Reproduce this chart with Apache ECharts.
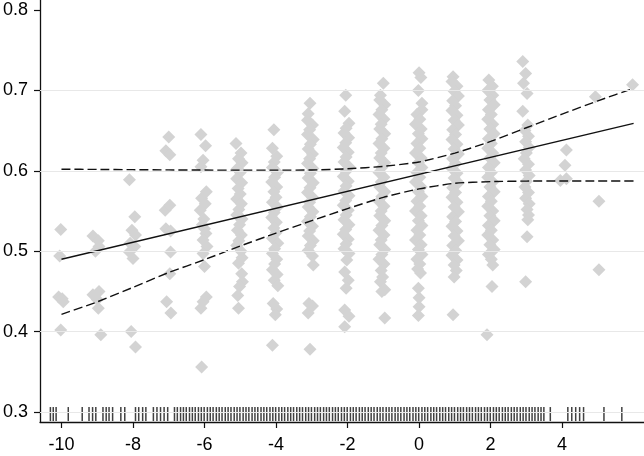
<!DOCTYPE html>
<html><head><meta charset="utf-8">
<script src="https://cdn.jsdelivr.net/npm/echarts@6/dist/echarts.min.js"></script>
<style>html,body{margin:0;padding:0;background:#fff}#c{width:644px;height:456px}</style>
</head><body><div id="c"></div>
<script>
// ---- data ----
const xTicks = [-10, -8, -6, -4, -2, 0, 2, 4];
const yTicks = [0.3, 0.4, 0.5, 0.6, 0.7, 0.8];
const gridYs = [0.3, 0.4, 0.5, 0.6, 0.7];

const colM10 = [[-10.02,0.527],[-10.05,0.494],[-10.08,0.443],[-9.98,0.441],[-9.95,0.437],[-10.02,0.402]];
const colM9 = [[-9.12,0.519],[-8.97,0.513],[-8.95,0.506],[-9.05,0.500],[-9.12,0.446],[-8.95,0.450],[-9.0,0.440],[-8.97,0.429],[-8.9,0.396]];
const colM8 = [[-8.1,0.589],[-7.95,0.543],[-8.03,0.526],[-7.93,0.520],[-8.08,0.510],[-7.95,0.506],[-8.1,0.499],[-8.0,0.491],[-8.05,0.400],[-7.93,0.381]];
const colM7 = [[-7.0,0.642],[-7.08,0.625],[-6.97,0.620],[-7.1,0.551],[-6.97,0.557],[-7.08,0.528],[-6.95,0.525],[-6.95,0.499],[-6.97,0.472],[-7.06,0.437],[-6.94,0.423]];
const colM6 = [[-6.1,0.645],[-5.97,0.631],[-6.04,0.613],[-6.1,0.605],[-5.95,0.574],[-6.08,0.566],[-5.98,0.559],[-6.12,0.551],[-6.02,0.540],[-6.06,0.533],[-6.0,0.528],[-5.96,0.522],[-6.04,0.514],[-5.93,0.506],[-6.04,0.497],[-6.0,0.481],[-5.95,0.443],[-6.04,0.437],[-6.1,0.429],[-6.08,0.356]];
const colM5 = [[-5.12,0.634],[-4.98,0.622],[-5.05,0.615],[-4.95,0.610],[-5.08,0.603],[-5.0,0.598],[-5.1,0.590],[-4.96,0.585],[-5.06,0.578],[-5.0,0.571],[-5.1,0.565],[-4.97,0.559],[-5.04,0.552],[-5.1,0.545],[-4.95,0.540],[-5.02,0.533],[-5.08,0.526],[-4.97,0.520],[-5.04,0.513],[-5.1,0.507],[-4.98,0.500],[-4.95,0.492],[-5.05,0.485],[-4.96,0.472],[-4.94,0.462],[-5.02,0.456],[-5.07,0.445],[-5.05,0.429]];
const colM4 = [[-4.06,0.651],[-4.1,0.628],[-3.98,0.618],[-4.05,0.611],[-4.1,0.604],[-3.96,0.598],[-4.04,0.592],[-4.12,0.586],[-3.98,0.580],[-4.06,0.574],[-4.0,0.567],[-4.1,0.561],[-3.96,0.555],[-4.05,0.548],[-4.12,0.542],[-3.99,0.536],[-4.06,0.529],[-4.0,0.523],[-4.1,0.516],[-3.95,0.510],[-4.04,0.503],[-4.1,0.497],[-3.98,0.490],[-4.04,0.484],[-4.1,0.477],[-3.97,0.471],[-4.05,0.464],[-3.95,0.457],[-4.08,0.435],[-3.98,0.428],[-4.02,0.421],[-4.1,0.383]];
const colM3 = [[-3.05,0.684],[-3.1,0.671],[-3.12,0.663],[-2.98,0.657],[-3.06,0.651],[-3.12,0.645],[-2.96,0.639],[-3.04,0.633],[-3.1,0.627],[-2.98,0.621],[-3.06,0.615],[-3.12,0.609],[-2.97,0.603],[-3.04,0.597],[-3.1,0.591],[-2.96,0.585],[-3.05,0.579],[-3.12,0.573],[-2.98,0.567],[-3.06,0.561],[-3.1,0.555],[-2.97,0.549],[-3.04,0.543],[-3.12,0.537],[-2.98,0.531],[-3.06,0.525],[-3.1,0.519],[-2.96,0.513],[-3.04,0.507],[-3.1,0.501],[-2.98,0.494],[-2.96,0.483],[-3.08,0.435],[-2.98,0.432],[-3.1,0.423],[-3.05,0.378]];
const colM2 = [[-2.05,0.694],[-2.08,0.674],[-1.96,0.659],[-2.04,0.653],[-2.1,0.647],[-1.97,0.641],[-2.05,0.635],[-2.12,0.629],[-1.98,0.623],[-2.04,0.617],[-2.1,0.611],[-1.96,0.605],[-2.05,0.599],[-2.12,0.593],[-1.98,0.587],[-2.04,0.581],[-2.1,0.575],[-1.96,0.569],[-2.05,0.563],[-2.12,0.557],[-1.98,0.551],[-2.04,0.545],[-2.1,0.539],[-1.96,0.533],[-2.05,0.527],[-2.12,0.521],[-1.98,0.515],[-2.04,0.509],[-2.1,0.503],[-1.96,0.497],[-2.02,0.489],[-2.08,0.474],[-1.98,0.464],[-2.04,0.454],[-2.08,0.427],[-1.96,0.419],[-2.08,0.406]];
const colM1 = [[-1.0,0.709],[-1.08,0.694],[-1.10,0.688],[-0.96,0.682],[-1.04,0.676],[-1.12,0.670],[-0.98,0.664],[-1.06,0.658],[-1.10,0.652],[-0.96,0.646],[-1.04,0.640],[-1.12,0.634],[-0.98,0.628],[-1.06,0.622],[-1.10,0.616],[-0.96,0.610],[-1.04,0.604],[-1.12,0.598],[-0.98,0.592],[-1.06,0.586],[-1.10,0.580],[-0.96,0.574],[-1.04,0.568],[-1.12,0.562],[-0.98,0.556],[-1.06,0.550],[-1.10,0.544],[-0.96,0.538],[-1.04,0.532],[-1.12,0.526],[-0.98,0.520],[-1.06,0.514],[-1.10,0.508],[-0.96,0.502],[-1.04,0.496],[-1.12,0.490],[-0.98,0.484],[-1.06,0.476],[-1.02,0.468],[-1.08,0.462],[-1.04,0.450],[-0.96,0.452],[-0.96,0.417]];
const col0 = [[0.0,0.722],[0.05,0.716],[-0.02,0.700],[0.08,0.684],[0.08,0.676],[-0.06,0.670],[0.02,0.664],[-0.10,0.658],[0.06,0.652],[-0.02,0.646],[0.08,0.640],[-0.06,0.634],[0.02,0.628],[-0.10,0.622],[0.06,0.616],[-0.02,0.610],[0.08,0.604],[-0.06,0.598],[0.02,0.592],[-0.10,0.586],[0.06,0.580],[-0.02,0.574],[0.08,0.568],[-0.06,0.562],[0.02,0.556],[-0.10,0.550],[0.06,0.544],[-0.02,0.538],[0.08,0.532],[-0.06,0.526],[0.02,0.520],[-0.10,0.514],[0.06,0.508],[-0.02,0.502],[0.08,0.496],[-0.06,0.490],[0.02,0.484],[-0.04,0.478],[0.04,0.473],[-0.02,0.454],[0.0,0.442],[0.0,0.431],[-0.02,0.420]];
const col1 = [[0.95,0.717],[0.92,0.711],[1.06,0.705],[0.98,0.699],[1.10,0.693],[0.94,0.687],[1.02,0.681],[0.92,0.675],[1.06,0.669],[0.98,0.663],[1.10,0.657],[0.94,0.651],[1.02,0.645],[0.92,0.639],[1.06,0.633],[0.98,0.627],[1.10,0.621],[0.94,0.615],[1.02,0.609],[0.92,0.603],[1.06,0.597],[0.98,0.591],[1.10,0.585],[0.94,0.579],[1.02,0.573],[0.92,0.567],[1.06,0.561],[0.98,0.555],[1.10,0.549],[0.94,0.543],[1.02,0.537],[0.92,0.531],[1.06,0.525],[0.98,0.519],[1.10,0.513],[0.94,0.507],[1.02,0.501],[0.92,0.495],[1.06,0.489],[0.98,0.483],[1.04,0.476],[0.98,0.468],[0.95,0.421]];
const col2 = [[1.95,0.713],[2.05,0.705],[1.92,0.700],[2.06,0.694],[1.98,0.688],[2.10,0.682],[1.94,0.676],[2.02,0.670],[1.92,0.664],[2.06,0.658],[1.98,0.652],[2.10,0.646],[1.94,0.640],[2.02,0.634],[1.92,0.628],[2.06,0.622],[1.98,0.616],[2.10,0.610],[1.94,0.604],[2.02,0.598],[1.92,0.592],[2.06,0.586],[1.98,0.580],[2.10,0.574],[1.94,0.568],[2.02,0.562],[1.92,0.556],[2.06,0.550],[1.98,0.544],[2.10,0.538],[1.94,0.532],[2.02,0.526],[1.92,0.520],[2.06,0.514],[1.98,0.508],[2.10,0.502],[1.94,0.496],[2.02,0.490],[2.06,0.483],[2.04,0.456],[1.9,0.396]];
const col3 = [[2.9,0.736],[2.98,0.721],[2.92,0.709],[3.02,0.696],[2.9,0.674],[3.04,0.657],[2.96,0.650],[3.06,0.643],[2.98,0.636],[3.08,0.629],[3.0,0.622],[2.94,0.615],[3.06,0.608],[2.98,0.601],[3.08,0.594],[3.0,0.587],[2.96,0.580],[3.06,0.573],[2.98,0.566],[3.08,0.559],[3.02,0.552],[3.06,0.545],[3.04,0.539],[3.02,0.518],[2.98,0.462]];
const col4 = [[4.12,0.626],[4.08,0.607],[4.12,0.590],[3.95,0.588]];
const col5 = [[4.93,0.692],[5.03,0.562],[5.03,0.477]];
const col6 = [[5.97,0.707]];

const fitX = [-10, 6];
const fitY = [0.490, 0.659];
const bandX = [-10,-9,-8,-7,-6,-5,-4,-3,-2,-1,0,1,2,3,4,5,6];
const upperY = [0.602,0.6017,0.6014,0.6011,0.6009,0.6008,0.6008,0.601,0.6025,0.6055,0.611,0.622,0.6365,0.6535,0.6705,0.687,0.7026];
const lowerY = [0.4215,0.437,0.455,0.4735,0.4895,0.5065,0.5225,0.538,0.553,0.567,0.5775,0.5845,0.5865,0.5872,0.5874,0.5874,0.5874];

const rugX = [-10.31,-10.23,-10.15,-9.81,-9.42,-9.23,-9.13,-9.04,-8.84,-8.75,-8.67,-8.57,-8.34,-8.23,-7.93,-7.84,-7.73,-7.64,-7.43,-7.33,-7.23,-7.13,-7.03,
-6.84,-6.76,-6.67,-6.59,-6.51,-6.42,-6.34,-6.26,-6.17,-6.09,-6.01,-5.92,-5.84,-5.76,-5.67,-5.59,-5.51,-5.42,-5.34,-5.26,-5.17,-5.09,-5.01,-4.92,-4.84,-4.76,-4.67,-4.59,-4.51,-4.42,-4.34,-4.26,-4.17,-4.09,-4.01,-3.92,-3.84,-3.76,-3.67,-3.59,-3.51,-3.42,-3.34,-3.26,-3.17,-3.09,-3.01,-2.92,-2.84,-2.76,-2.67,-2.59,-2.51,-2.42,-2.34,-2.26,-2.17,-2.09,-2.01,-1.92,-1.84,-1.76,-1.67,-1.59,-1.51,-1.42,-1.34,-1.26,-1.17,-1.09,-1.01,-0.92,-0.84,-0.76,-0.67,-0.59,-0.51,-0.42,-0.34,-0.26,-0.17,-0.09,-0.01,0.08,0.16,0.24,0.33,0.41,0.49,0.58,0.66,0.74,0.83,0.91,0.99,1.08,1.16,1.24,1.33,1.41,1.49,1.58,1.66,1.74,1.83,1.91,1.99,2.08,2.16,2.24,2.33,2.41,2.49,2.58,2.66,2.74,2.83,2.91,2.99,3.08,3.16,3.24,3.33,3.41,3.49,
3.67,4.16,4.27,4.38,4.49,4.60,5.17,5.67];
const rugLevel = 0.2975;

// ---- chart ----
const points = [].concat(colM10,colM9,colM8,colM7,colM6,colM5,colM4,colM3,colM2,colM1,col0,col1,col2,col3,col4,col5,col6);
const font = 'Liberation Sans, Arial, sans-serif';
const chart = echarts.init(document.getElementById('c'), null, {renderer:'canvas'});
chart.setOption({
  animation: false,
  backgroundColor: '#fff',
  grid: {left: 38, right: 0, top: 0, bottom: 34, containLabel: false},
  xAxis: {
    type: 'value', min: -10.6, max: 6.29,
    axisLine: {show: true, onZero: false, lineStyle: {color: '#111', width: 1.3}},
    axisTick: {show: true, length: 6, customValues: xTicks, lineStyle: {color: '#111', width: 1.2}},
    axisLabel: {customValues: xTicks, color: '#000', fontSize: 18, fontFamily: font, margin: 14},
    splitLine: {show: false}
  },
  yAxis: {
    type: 'value', min: 0.2876, max: 0.8124,
    axisLine: {show: true, onZero: false, lineStyle: {color: '#111', width: 1.3}},
    axisTick: {show: true, length: 6, customValues: yTicks, lineStyle: {color: '#111', width: 1.2}},
    axisLabel: {customValues: yTicks, color: '#000', fontSize: 18, fontFamily: font, margin: 12,
      formatter: v => v.toFixed(1)},
    splitLine: {show: false}
  },
  series: [
    {type: 'line', data: [], z: 1, silent: true,
     markLine: {silent: true, symbol: 'none', label: {show: false},
       lineStyle: {color: '#e8e8e8', width: 1.2, type: 'solid'},
       data: gridYs.map(v => ({yAxis: v}))}},
    {type: 'scatter', data: points, symbol: 'diamond', symbolSize: 13, z: 2,
     itemStyle: {color: '#d3d3d3', opacity: 1}},
    {type: 'scatter', data: rugX.map(x => [x, rugLevel]), symbol: 'rect', symbolSize: [1.5, 14], z: 3,
     itemStyle: {color: '#111'}},
    {type: 'line', data: fitX.map((x, i) => [x, fitY[i]]), showSymbol: false, z: 4,
     lineStyle: {color: '#111', width: 1.4}},
    {type: 'line', data: bandX.map((x, i) => [x, upperY[i]]), showSymbol: false, smooth: 0.2, z: 4,
     lineStyle: {color: '#111', width: 1.4, type: [9, 4]}},
    {type: 'line', data: bandX.map((x, i) => [x, lowerY[i]]), showSymbol: false, smooth: 0.2, z: 4,
     lineStyle: {color: '#111', width: 1.4, type: [9, 4]}}
  ]
});
</script></body></html>
